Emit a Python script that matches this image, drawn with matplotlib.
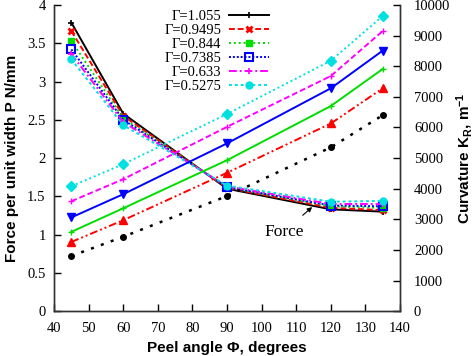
import matplotlib
matplotlib.use("Agg")
import matplotlib.pyplot as plt

plt.rcParams["font.family"] = ["Liberation Serif", "DejaVu Serif"]
plt.rcParams["mathtext.fontset"] = "custom"
plt.rcParams["mathtext.bf"] = "Liberation Sans:bold"
plt.rcParams["mathtext.rm"] = "Liberation Sans:bold"
plt.rcParams["mathtext.default"] = "bf"

angles = [45, 60, 90, 120, 135]
gammas = ["1.055", "0.9495", "0.844", "0.7385", "0.633", "0.5275"]

force_g1055 = [3.77, 2.58, 1.60, 1.33, 1.30]
force_g09495 = [3.66, 2.55, 1.61, 1.35, 1.32]
force_g0844 = [3.53, 2.52, 1.62, 1.37, 1.35]
force_g07385 = [3.42, 2.50, 1.62, 1.38, 1.37]
force_g0633 = [3.36, 2.47, 1.63, 1.40, 1.40]
force_g05275 = [3.29, 2.43, 1.64, 1.43, 1.44]

curv_g1055 = [1800, 2430, 3760, 5350, 6400]
curv_g09495 = [2260, 2970, 4520, 6130, 7280]
curv_g0844 = [2590, 3360, 4930, 6700, 7910]
curv_g07385 = [3060, 3820, 5480, 7280, 8510]
curv_g0633 = [3590, 4310, 6020, 7680, 9150]
curv_g05275 = [4080, 4800, 6440, 8180, 9640]

xticks = list(range(40, 141, 10))
left_ticks = [0, 0.5, 1, 1.5, 2, 2.5, 3, 3.5, 4]
left_labels = ["0", "0.5", "1", "1.5", "2", "2.5", "3", "3.5", "4"]
right_ticks = list(range(0, 10001, 1000))

forces = [force_g1055, force_g09495, force_g0844, force_g07385, force_g0633, force_g05275]
curvs = [curv_g1055, curv_g09495, curv_g0844, curv_g07385, curv_g0633, curv_g05275]

colors = ["black", "#ff0000", "#00dd00", "#0000ff", "#ff00ff", "#00e0e0"]

force_styles = [
    dict(ls="-", marker="+", ms=4, mew=1.2),
    dict(ls=(0, (3, 1.5)), marker="x", ms=4.5, mew=2),
    dict(ls=(0, (1, 1.5)), marker="s", ms=4.5),
    dict(ls=(0, (1, 1)), marker="s", ms=5.5, mfc="none", mew=1.5),
    dict(ls=(0, (4, 1.5, 1, 1.5)), marker="+", ms=4, mew=1.2),
    dict(ls=(0, (1.5, 1.5)), marker="o", ms=5),
]
curv_styles = [
    dict(ls=(0, (1.2, 3)), marker="o", ms=4, lw=1.8),
    dict(ls=(0, (4, 1.5, 1, 1.5, 1, 1.5)), marker="^", ms=6),
    dict(ls="-", marker="+", ms=4),
    dict(ls="-", marker="v", ms=6),
    dict(ls=(0, (3, 1.5)), marker="+", ms=4),
    dict(ls=(0, (1, 1.5)), marker="D", ms=5),
]

fig = plt.figure(figsize=(4.74, 3.56), dpi=100)
ax = fig.add_axes([0.114, 0.126, 0.730, 0.860])
ax2 = ax.twinx()

for g, f, c, st in zip(gammas, forces, colors, force_styles):
    ax.plot(angles, f, color=c, lw=st.pop("lw", 1.4), label="\u0393=" + g, **st)
for cv, c, st in zip(curvs, colors, curv_styles):
    ax2.plot(angles, cv, color=c, lw=st.pop("lw", 1.4), **st)

ax.set_xlim(40, 140)
ax.set_ylim(0, 4)
ax2.set_ylim(0, 10000)
ax.set_xticks(xticks)
ax.set_xticklabels([str(t) for t in xticks])
ax.set_yticks(left_ticks)
ax.set_yticklabels(left_labels)
ax2.set_yticks(right_ticks)
ax2.set_yticklabels([str(t) for t in right_ticks])

for a in (ax, ax2):
    a.spines["top"].set_visible(False)
    for s in a.spines.values():
        s.set_linewidth(1.0)
        s.set_color("#333333")
ax.tick_params(axis="x", direction="in", length=5, width=1, pad=8)
ax.tick_params(axis="y", direction="in", length=5, width=1, pad=6)
ax2.tick_params(axis="y", direction="in", length=5, width=1, pad=10)
for lbl in ax.get_xticklabels() + ax.get_yticklabels() + ax2.get_yticklabels():
    lbl.set_fontfamily("Liberation Serif")
    lbl.set_fontsize(10.5)

ax.set_xlabel("Peel angle \u03a6, degrees", family="Liberation Sans",
              fontweight="bold", fontsize=11, labelpad=4)
ax.set_ylabel("Force per unit width P N/mm", family="Liberation Sans",
              fontweight="bold", fontsize=11, labelpad=6)
ax2.set_ylabel("Curvature K$_{R}$, m$^{-1}$", family="Liberation Sans",
               fontweight="bold", fontsize=11, labelpad=3)

ax.annotate("Force", xy=(114.6, 1.36), xytext=(106.5, 1.04),
            fontsize=12.5, ha="center", va="center",
            arrowprops=dict(arrowstyle="-|>", color="black", lw=0.8,
                            mutation_scale=7, shrinkA=6, shrinkB=0))

leg = ax.legend(loc="upper right", bbox_to_anchor=(0.622, 0.985), frameon=False,
                markerfirst=False, handlelength=2.75,
                labelspacing=0.06, handletextpad=0.55, borderaxespad=0.0,
                borderpad=0.0,
                prop=dict(family="Liberation Serif", size=10.5))

fig.savefig("out.png", dpi=100)
